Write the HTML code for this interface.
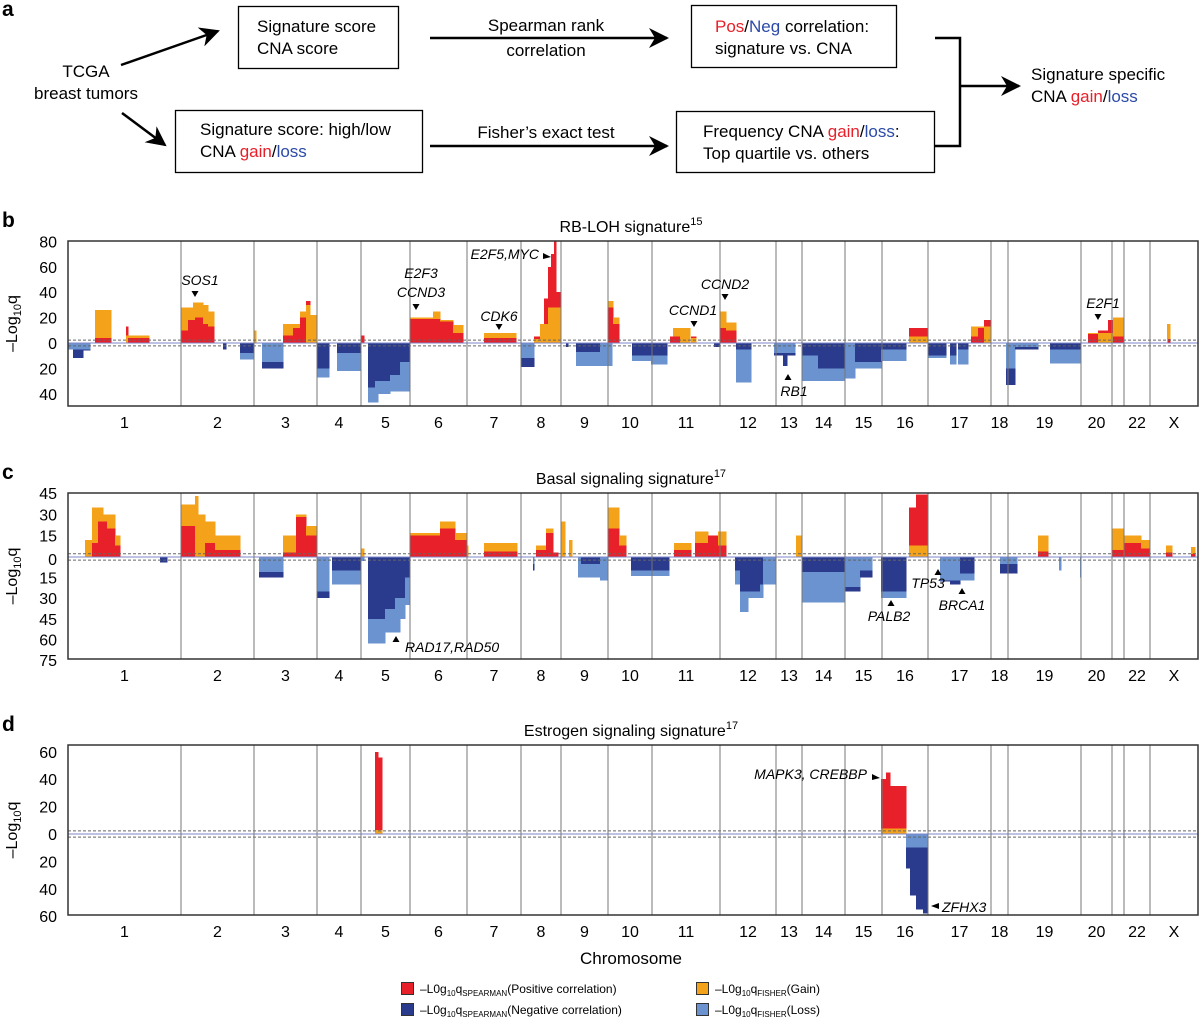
<!DOCTYPE html>
<html><head><meta charset="utf-8">
<style>
html,body{margin:0;padding:0;background:#fff;}
svg{display:block;font-family:"Liberation Sans",Arial,sans-serif;}
</style></head>
<body>
<svg id="fig" width="1200" height="1018" viewBox="0 0 1200 1018" xmlns="http://www.w3.org/2000/svg">
<defs>
<marker id="ah" viewBox="0 0 10 10" refX="9" refY="5" markerWidth="8" markerHeight="8" orient="auto-start-reverse"><path d="M0,0 L10,5 L0,10 L3,5 z" fill="#000"/></marker>
</defs>
<!-- Panel a -->
<g font-size="17">
<text x="2" y="16" font-size="21" font-weight="bold">a</text>
<text x="86" y="77" text-anchor="middle">TCGA</text>
<text x="86" y="99" text-anchor="middle">breast tumors</text>
<line x1="121" y1="65" x2="218" y2="31" stroke="#000" stroke-width="2.5" marker-end="url(#ah)"/>
<line x1="122" y1="113" x2="165" y2="145" stroke="#000" stroke-width="2.5" marker-end="url(#ah)"/>
<rect x="238.5" y="6.5" width="160" height="62" fill="none" stroke="#000" stroke-width="1.3"/>
<text x="257" y="32">Signature score</text>
<text x="257" y="54">CNA score</text>
<rect x="175.5" y="110.5" width="247" height="62" fill="none" stroke="#000" stroke-width="1.3"/>
<text x="200" y="135">Signature score: high/low</text>
<text x="200" y="157">CNA <tspan fill="#e8202a">gain</tspan>/<tspan fill="#2b4aa8">loss</tspan></text>
<line x1="430" y1="38" x2="667" y2="38" stroke="#000" stroke-width="2.5" marker-end="url(#ah)"/>
<text x="546" y="31" text-anchor="middle">Spearman rank</text>
<text x="546" y="56" text-anchor="middle">correlation</text>
<line x1="430" y1="146" x2="667" y2="146" stroke="#000" stroke-width="2.5" marker-end="url(#ah)"/>
<text x="546" y="138" text-anchor="middle">Fisher’s exact test</text>
<rect x="691.5" y="5.5" width="205" height="62" fill="none" stroke="#000" stroke-width="1.3"/>
<text x="715" y="32"><tspan fill="#e8202a">Pos</tspan>/<tspan fill="#2b4aa8">Neg</tspan> correlation:</text>
<text x="715" y="54">signature vs. CNA</text>
<rect x="676.5" y="111.5" width="258" height="61" fill="none" stroke="#000" stroke-width="1.3"/>
<text x="703" y="137">Frequency CNA <tspan fill="#e8202a">gain</tspan>/<tspan fill="#2b4aa8">loss</tspan>:</text>
<text x="703" y="159">Top quartile vs. others</text>
<path d="M935,38 H960 V146 H935" fill="none" stroke="#000" stroke-width="2.5"/>
<line x1="960" y1="86" x2="1019" y2="86" stroke="#000" stroke-width="2.5" marker-end="url(#ah)"/>
<text x="1031" y="80">Signature specific</text>
<text x="1031" y="102">CNA <tspan fill="#e8202a">gain</tspan>/<tspan fill="#2b4aa8">loss</tspan></text>
</g>
<g id="charts"></g>
<!-- Legend -->
<g font-size="12">
<g><rect x="401.5" y="982.5" width="12" height="12" fill="#e8202a" stroke="#333"/><text x="420" y="993">–L0g<tspan font-size="8" dy="3">10</tspan><tspan dy="-3">q</tspan><tspan font-size="8" dy="3">SPEARMAN</tspan><tspan dy="-3">(Positive correlation)</tspan></text></g>
<g><rect x="401.5" y="1003.5" width="12" height="12" fill="#2a3a8c" stroke="#333"/><text x="420" y="1014">–L0g<tspan font-size="8" dy="3">10</tspan><tspan dy="-3">q</tspan><tspan font-size="8" dy="3">SPEARMAN</tspan><tspan dy="-3">(Negative correlation)</tspan></text></g>
<g><rect x="696.5" y="982.5" width="12" height="12" fill="#f5a21b" stroke="#333"/><text x="715" y="993">–L0g<tspan font-size="8" dy="3">10</tspan><tspan dy="-3">q</tspan><tspan font-size="8" dy="3">FISHER</tspan><tspan dy="-3">(Gain)</tspan></text></g>
<g><rect x="696.5" y="1003.5" width="12" height="12" fill="#6b93cf" stroke="#333"/><text x="715" y="1014">–L0g<tspan font-size="8" dy="3">10</tspan><tspan dy="-3">q</tspan><tspan font-size="8" dy="3">FISHER</tspan><tspan dy="-3">(Loss)</tspan></text></g>
</g>
</svg>
<script>
// chromosome names and relative lengths (genome units)
const chromNames = ["1","2","3","4","5","6","7","8","9","10","11","12","13","14","15","16","17","18","19","20","21","22","X"];
const chromLengths = [113,73,63,44,49,57,54,40,47,44,68,56,26,43,37,46,63,17,73,31,12,26,48];
const chromLabels = ["1","2","3","4","5","6","7","8","9","10","11","12","13","14","15","16","17","18","19","20","","22","X"];

// Panel b: RB-LOH (segments: [start, end, value] in genome units)
const bPosSpearman = [[27,43,4],[58,60,13],[58,81,4],[113,120,10],[120,127,18],[127,135,20],[135,140,15],[140,146,13],[215,225,6],[225,232,12],[232,238,20],[238,242,33],[242,249,22],[293,296,6],[342,372,19],[372,385,17],[385,395,8],[416,448,4],[466,472,5],[472,476,15],[476,480,35],[480,483,60],[483,486,70],[486,488,80],[488,493,40],[540,545,28],[545,551,15],[602,612,5],[623,628,5],[652,658,12],[658,668,10],[841,860,12],[903,910,5],[910,916,12],[916,922,18],[1020,1030,7],[1030,1040,10],[1040,1045,18],[1045,1056,5],[1100,1102,3]];
const bGainFisher = [[27,43,26],[58,81,6],[113,125,28],[125,135,32],[135,140,30],[140,146,25],[186,188,10],[215,232,15],[232,238,25],[238,242,30],[242,249,22],[342,365,20],[365,372,25],[372,385,18],[385,395,14],[416,448,8],[466,472,3],[472,480,15],[480,493,28],[540,545,33],[545,551,20],[605,622,12],[623,628,4],[652,658,25],[658,668,16],[841,860,5],[903,922,13],[1020,1045,8],[1045,1056,20],[1099,1102,15]];
const bNegSpearman = [[0,5,5],[5,15,12],[15,22,6],[155,158,5],[172,186,8],[194,215,20],[249,261,20],[269,293,8],[300,307,35],[307,322,30],[322,332,25],[332,342,15],[453,466,19],[498,500,3],[508,532,7],[564,599,10],[646,651,3],[668,683,5],[706,715,10],[715,719,18],[719,727,10],[734,750,10],[750,777,20],[777,787,28],[787,813,15],[813,838,5],[860,878,10],[882,888,10],[890,900,5],[938,947,33],[947,970,5],[982,1013,5]];
const bLossFisher = [[0,22,5],[172,186,13],[194,215,15],[249,261,27],[269,293,22],[300,310,47],[310,322,40],[322,342,38],[453,466,12],[508,532,18],[532,544,18],[564,583,14],[583,599,17],[668,683,31],[706,727,8],[734,777,30],[777,787,28],[787,813,20],[813,838,14],[860,878,12],[882,888,17],[890,900,17],[938,947,20],[947,970,3],[982,1013,16]];

// Panel c: Basal signaling
const cPosSpearman = [[24,30,10],[30,39,25],[39,47,20],[47,52,8],[113,127,22],[127,130,43],[130,137,30],[137,147,10],[147,172,5],[215,228,3],[228,238,28],[238,249,15],[342,372,15],[372,387,20],[387,399,12],[416,449,4],[468,478,5],[478,485,17],[485,490,3],[540,551,20],[551,558,8],[606,623,5],[627,640,10],[640,650,15],[650,658,8],[841,848,35],[848,860,44],[970,980,4],[1044,1056,5],[1056,1073,10],[1073,1082,6],[1098,1104,3],[1123,1127,2]];
const cGainFisher = [[17,24,12],[24,35,35],[35,47,30],[47,52,15],[113,127,37],[127,130,43],[130,137,30],[137,147,25],[147,172,15],[215,228,15],[228,238,30],[238,249,22],[293,296,6],[342,372,17],[372,387,25],[387,399,17],[399,400,8],[416,449,10],[468,478,8],[478,485,20],[493,497,25],[501,504,12],[540,551,35],[551,558,15],[606,623,10],[627,640,18],[650,658,18],[728,734,15],[841,860,8],[970,980,15],[1044,1056,20],[1056,1073,15],[1073,1082,12],[1098,1104,8],[1123,1127,7]];
const cNegSpearman = [[92,99,4],[191,215,15],[249,261,30],[264,293,10],[300,317,45],[317,327,38],[327,337,30],[337,342,15],[465,466,10],[513,532,5],[563,601,10],[667,672,10],[672,692,25],[692,708,20],[734,777,11],[777,792,25],[792,804,15],[813,838,25],[872,882,18],[882,892,20],[892,906,12],[932,949,12]];
const cLossFisher = [[191,215,11],[249,261,25],[264,293,20],[293,296,3],[300,317,63],[317,332,55],[332,337,45],[337,342,35],[465,466,5],[510,532,15],[532,540,17],[563,601,14],[667,672,20],[672,680,40],[680,695,30],[695,708,20],[734,777,33],[777,792,22],[792,804,10],[813,838,30],[872,906,17],[932,949,5],[991,993,10],[1012,1013,15]];

// Panel d: Estrogen signaling
const dPosSpearman = [[307,310,60],[310,314,56],[813,818,40],[818,822,45],[822,838,35]];
const dGainFisher = [[307,314,3],[813,838,4]];
const dNegSpearman = [[838,842,25],[842,848,45],[848,855,55],[855,860,58]];
const dLossFisher = [[838,860,10]];

// tick label arrays
const bTicksUp = [0,20,40,60,80];
const bTicksDown = [20,40];
const cTicksUp = [0,15,30,45];
const cTicksDown = [0,15,30,45,60,75];
const dTicksUp = [0,20,40,60];
const dTicksDown = [20,40,60];

const NS = "http://www.w3.org/2000/svg";
const root = document.getElementById("charts");
const X0 = 68, X1 = 1198;
const genomeTotal = chromLengths.reduce((a,b)=>a+b,0);
function xScale(g){ return X0 + g*(X1-X0)/genomeTotal; }
function mk(tag, attrs, parent){
  const e = document.createElementNS(NS, tag);
  for (const k in attrs) e.setAttribute(k, attrs[k]);
  (parent||root).appendChild(e);
  return e;
}
function valAt(series, g){
  let v = 0;
  for (const s of series) if (g >= s[0] && g < s[1] && s[2] > v) v = s[2];
  return v;
}

const COLORS = {pos:"#e8202a", gain:"#f5a21b", neg:"#2a3a8c", loss:"#6b93cf"};

function drawSide(g, sA, sB, colA, colB, yFn){
  // run-length through genome; larger value drawn first, smaller on top
  let start = 0, prev = null;
  const flush = (a, b, from, to) => {
    const x1 = xScale(from), x2 = xScale(to);
    const items = [[a,colA,'a'],[b,colB,'b']].filter(d=>d[0]>0).sort((p,q)=>q[0]-p[0]);
    for (const it of items){
      const y = yFn(it[0]), y0 = yFn(0);
      const r = mk("rect", {x:x1.toFixed(2), y:Math.min(y,y0).toFixed(2), width:(x2-x1+0.3).toFixed(2), height:Math.abs(y-y0).toFixed(2), fill:it[1]}, g);
      
      
    }
  };
  const N = genomeTotal;
  for (let x = 0; x <= N; x++){
    const a = x < N ? valAt(sA, x) : -1, b = x < N ? valAt(sB, x) : -1;
    const key = a + "|" + b;
    if (prev === null){ prev = key; start = x; continue; }
    if (key !== prev){
      const [pa, pb] = prev.split("|").map(Number);
      if (pa > 0 || pb > 0) flush(pa, pb, start, x);
      prev = key; start = x;
    }
  }
}

function panel(cfg){
  const g = mk("g", {});
  
  
  const yUp = v => cfg.zero - v*cfg.upScale;
  const yDn = v => cfg.zero + v*cfg.downScale;
  // panel letter
  const L = mk("text", {x:2, y:cfg.top-14, "font-size":21, "font-weight":"bold"}, g);
  L.textContent = cfg.letter;
  
  
  // title
  const T = mk("text", {x:631, y:cfg.top-9, "text-anchor":"middle", "font-size":16}, g);
  T.textContent = cfg.title;
  const sup = mk("tspan", {"font-size":11, dy:-7}, T); sup.textContent = cfg.sup;
  
  
  // bars
  const bars = mk("g", {"shape-rendering":"crispEdges"}, g);
  
  
  drawSide(bars, cfg.pos, cfg.gain, COLORS.pos, COLORS.gain, yUp);
  drawSide(bars, cfg.neg, cfg.loss, COLORS.neg, COLORS.loss, yDn);
  // threshold lines
  const th = mk("g", {}, g);
  
  
  mk("line", {x1:X0, x2:X1, y1:cfg.zero, y2:cfg.zero, stroke:"#7d86c8", "stroke-width":1}, th);
  mk("line", {x1:X0, x2:X1, y1:yUp(2.3), y2:yUp(2.3), stroke:"#666", "stroke-width":1, "stroke-dasharray":"3,2"}, th);
  mk("line", {x1:X0, x2:X1, y1:yDn(2.3), y2:yDn(2.3), stroke:"#666", "stroke-width":1, "stroke-dasharray":"3,2"}, th);
  // chromosome separators and labels
  let acc = 0;
  chromLengths.forEach((len, i) => {
    if (i > 0){
      const ln = mk("line", {x1:xScale(acc), x2:xScale(acc), y1:cfg.top, y2:cfg.bottom, stroke:"#777", "stroke-width":1}, g);
      
      
    }
    const lb = mk("text", {x:xScale(acc+len/2), y:cfg.bottom+22, "text-anchor":"middle", "font-size":16}, g);
    lb.textContent = chromLabels[i];
    
    
    acc += len;
  });
  // frame
  const fr = mk("rect", {x:X0, y:cfg.top, width:X1-X0, height:cfg.bottom-cfg.top, fill:"none", stroke:"#333", "stroke-width":1.5}, g);
  
  
  // y ticks
  const addTick = (v, y) => {
    const t = mk("text", {x:57, y:y+6, "text-anchor":"end", "font-size":16}, g);
    t.textContent = v;
    
    
  };
  cfg.ticksUp.forEach(v => addTick(v, yUp(v)));
  cfg.ticksDown.forEach(v => addTick(v, v === 0 ? yDn(0)+2 : yDn(v)));
  // y axis title
  const yt = mk("text", {x:0, y:0, "text-anchor":"middle", "font-size":16, transform:`translate(17,${(cfg.top+cfg.bottom)/2}) rotate(-90)`}, g);
  yt.textContent = "–Log";
  const s10 = mk("tspan", {"font-size":11, dy:4}, yt); s10.textContent = "10";
  const sq = mk("tspan", {dy:-4}, yt); sq.textContent = "q";
  
  
  // gene annotations
  cfg.genes.forEach(a => {
    const t = mk("text", {x:a[1], y:a[2], "text-anchor":a[3], "font-size":14, "font-style":"italic"}, g);
    t.textContent = a[0];
    
    
    if (a[4]){
      const [tx, ty, dir] = a[4];
      let d;
      if (dir === "down") d = `M${tx-3.5},${ty-6} L${tx+3.5},${ty-6} L${tx},${ty} z`;
      else if (dir === "up") d = `M${tx-3.5},${ty+6} L${tx+3.5},${ty+6} L${tx},${ty} z`;
      else if (dir === "right") d = `M${tx-8},${ty-3} L${tx-8},${ty+3} L${tx},${ty+1} z`;
      else d = `M${tx+8},${ty-3} L${tx+8},${ty+3} L${tx},${ty} z`;
      const m = mk("path", {d, fill:"#000"}, g);
      
      
    }
  });
}

panel({name:"panel-b-rb-loh", letter:"b", title:"RB-LOH signature", sup:"15", top:241, zero:343, bottom:406, upScale:1.27, downScale:1.27,
  ticksUp:bTicksUp, ticksDown:bTicksDown, pos:bPosSpearman, gain:bGainFisher, neg:bNegSpearman, loss:bLossFisher,
  genes:[["SOS1",200,285,"middle",[195,297,"down"]],["E2F3",421,278,"middle",null],["CCND3",421,297,"middle",[416,310,"down"]],
         ["E2F5,MYC",539,259,"end",[551,256,"right"]],["CDK6",499,321,"middle",[499,330,"down"]],["CCND1",693,315,"middle",[694,327,"down"]],
         ["CCND2",725,289,"middle",[725,300,"down"]],["RB1",794,396,"middle",[788,374,"up"]],["E2F1",1103,308,"middle",[1098,320,"down"]]]});
panel({name:"panel-c-basal", letter:"c", title:"Basal signaling signature", sup:"17", top:493, zero:557, bottom:659, upScale:1.42, downScale:1.373,
  ticksUp:cTicksUp.slice(1), ticksDown:cTicksDown, pos:cPosSpearman, gain:cGainFisher, neg:cNegSpearman, loss:cLossFisher,
  genes:[["RAD17,RAD50",405,652,"start",[396,636,"up"]],["PALB2",889,621,"middle",[891,600,"up"]],["TP53",928,588,"middle",[938,569,"up"]],
         ["BRCA1",962,610,"middle",[962,588,"up"]]]});
panel({name:"panel-d-estrogen", letter:"d", title:"Estrogen signaling signature", sup:"17", top:745, zero:834, bottom:915, upScale:1.37, downScale:1.37,
  ticksUp:dTicksUp, ticksDown:dTicksDown, pos:dPosSpearman, gain:dGainFisher, neg:dNegSpearman, loss:dLossFisher,
  genes:[["MAPK3, CREBBP",867,779,"end",[880,777,"right"]],["ZFHX3",942,912,"start",[931,906,"left"]]]});

const xt = mk("text", {x:631, y:964, "text-anchor":"middle", "font-size":17});
xt.textContent = "Chromosome";


</script>
</body></html>
